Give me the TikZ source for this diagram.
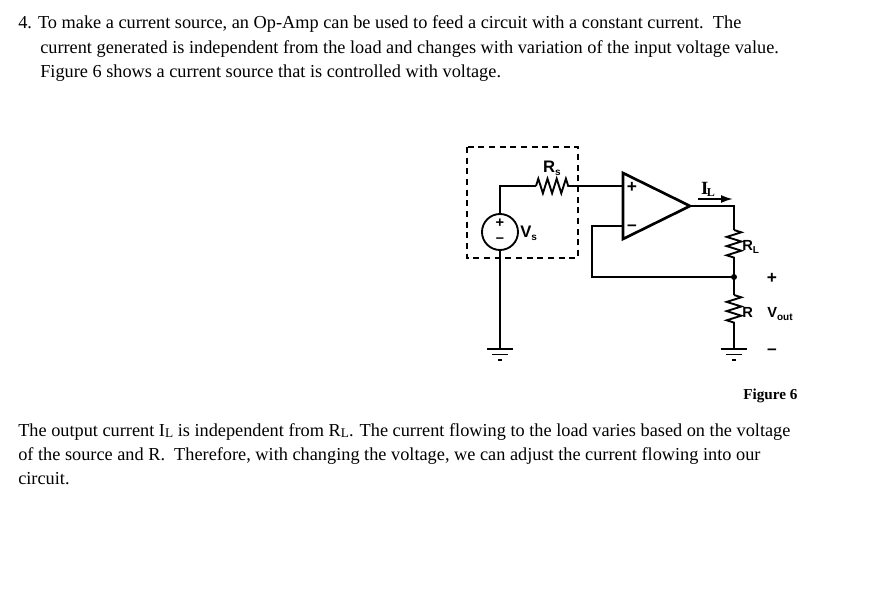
\documentclass[tikz,border=0pt]{standalone}
\usepackage{fontspec}
\setmainfont{Liberation Serif}
\newfontfamily\labelfont{Liberation Sans}
\usetikzlibrary{decorations.pathmorphing,arrows.meta}
\newcommand{\lsub}[1]{\raisebox{-2pt}{\fontsize{7.5}{8}\selectfont\textbf{#1}}}
\tikzset{
  wire/.style={line width=1.4},
  res/.style={line width=1.4,decorate,decoration={zigzag,segment length=6.9,amplitude=5.5}},
  para/.style={anchor=base west,inner sep=0,font=\fontsize{13.72}{15}\selectfont},
  lab/.style={inner sep=0,font=\labelfont\bfseries\fontsize{11}{12}\selectfont},
  biglab/.style={inner sep=0,font=\labelfont\bfseries\fontsize{12.5}{12}\selectfont},
  sign/.style={inner sep=0,font=\labelfont\bfseries\fontsize{13}{12}\selectfont},
  smallsign/.style={inner sep=0,text height=4pt,text depth=0pt,font=\labelfont\bfseries\fontsize{11}{11}\selectfont},
  gnd/.pic={
    \draw[line width=1.4] (-13,0) -- (13,0);
    \draw[line width=1.4] (-8,-5.5) -- (8,-5.5);
    \draw[line width=1.4] (-2,-11) -- (2,-11);
  }
}
\begin{document}
\begin{tikzpicture}[x=0.75pt,y=0.75pt,yscale=-1,xscale=1]
    \useasboundingbox (0,0) rectangle (876,592);
    \path[fill=white] (0,0) rectangle (876,592);

    % text above
    \node[para] (line1) at (18,29) {4. To make a current source, an Op-Amp can be used to feed a circuit with a constant current.\ \ The};
    \node[para] (line2) at (40,53.5) {current generated is independent from the load and changes with variation of the input voltage value.};
    \node[para] (line3) at (40,78) {Figure 6 shows a current source that is controlled with voltage.};

    % dashed box
    \draw[line width=1.6,dash pattern=on 4.5 off 3.5] (467,147) rectangle (578,258);

    % op-amp
    \draw[line width=2] (623,173) -- (623,239) -- (690,206) -- cycle;
    \coordinate (inp) at (623,186);
    \coordinate (inn) at (623,226);
    \coordinate (out) at (690,206);
    \node[sign] (plus) at (632,187) {+};
    \node[sign] (minus) at (632,228) {–};

    % source
    \node[draw,circle,line width=1.4,minimum size=27,inner sep=0] (src) at (500,232) {};
    \node[smallsign] (srcplus) at (500,225) {+};
    \node[smallsign] (srcminus) at (500,240) {–};
    \node[biglab,anchor=west] (vs) at (520,233) {V\lsub{s}};

    % wires
    \coordinate (corner) at (500,186);
    \coordinate (rsa) at (536,186);
    \coordinate (rsb) at (569,186);
    \draw[wire] (src.north) -- (corner) -- (rsa);
    \draw[res] (rsa) -- (rsb);
    \draw[wire] (rsb) -- (inp);
    \node[biglab] (rs) at (552,168) {R\lsub{s}};

    \coordinate (gndl) at (500,349);
    \draw[wire] (src.south) -- (gndl);
    \pic at (gndl) {gnd};

    \coordinate (outc) at (734,206);
    \coordinate (rla) at (734,230);
    \coordinate (rlb) at (734,260);
    \coordinate (node) at (734,277);
    \coordinate (ra) at (734,295);
    \coordinate (rb) at (734,325);
    \coordinate (gndr) at (734,349);
    \coordinate (fbb) at (592,277);
    \coordinate (fbt) at (592,226);
    \draw[wire] (out) -- (outc) -- (rla);
    \draw[res] (rla) -- (rlb);
    \draw[wire] (rlb) -- (node) -- (ra);
    \draw[res] (ra) -- (rb);
    \draw[wire] (rb) -- (gndr);
    \pic at (gndr) {gnd};
    \draw[wire] (node) -- (fbb) -- (fbt) -- (inn);
    \fill (node) circle (3);

    % current arrow
    \coordinate (ila) at (698,199);
    \coordinate (ilb) at (733,199);
    \draw[wire,-{Latex[length=9pt,width=6pt]}] (ila) -- (ilb);
    \node[inner sep=0,font=\fontsize{14}{14}\selectfont\bfseries] (il) at (708,189.5) {I\kern-1pt\raisebox{-1pt}{\fontsize{9}{9}\selectfont L}};

    % labels
    \node[lab,anchor=west] (rl) at (742,247) {R\lsub{L}};
    \node[lab,anchor=west] (r) at (742,312) {R};
    \node[sign] (vp) at (772,278) {+};
    \node[lab,anchor=west] (vout) at (767,314) {V\lsub{out}};
    \node[sign] (vm) at (772,352) {–};

    \node[para,font=\bfseries\fontsize{11.4}{12}\selectfont] (cap) at (743,399) {Figure 6};

    % text below
    \node[para] (line4) at (18,436.5) {The output current I\raisebox{-1pt}{\fontsize{10}{10}\selectfont L} is independent from R\raisebox{-1pt}{\fontsize{10}{10}\selectfont L}. The current flowing to the load varies based on the voltage};
    \node[para] (line5) at (18,460.5) {of the source and R.\ \ Therefore, with changing the voltage, we can adjust the current flowing into our};
    \node[para] (line6) at (18,484.5) {circuit.};
\end{tikzpicture}
\end{document}
